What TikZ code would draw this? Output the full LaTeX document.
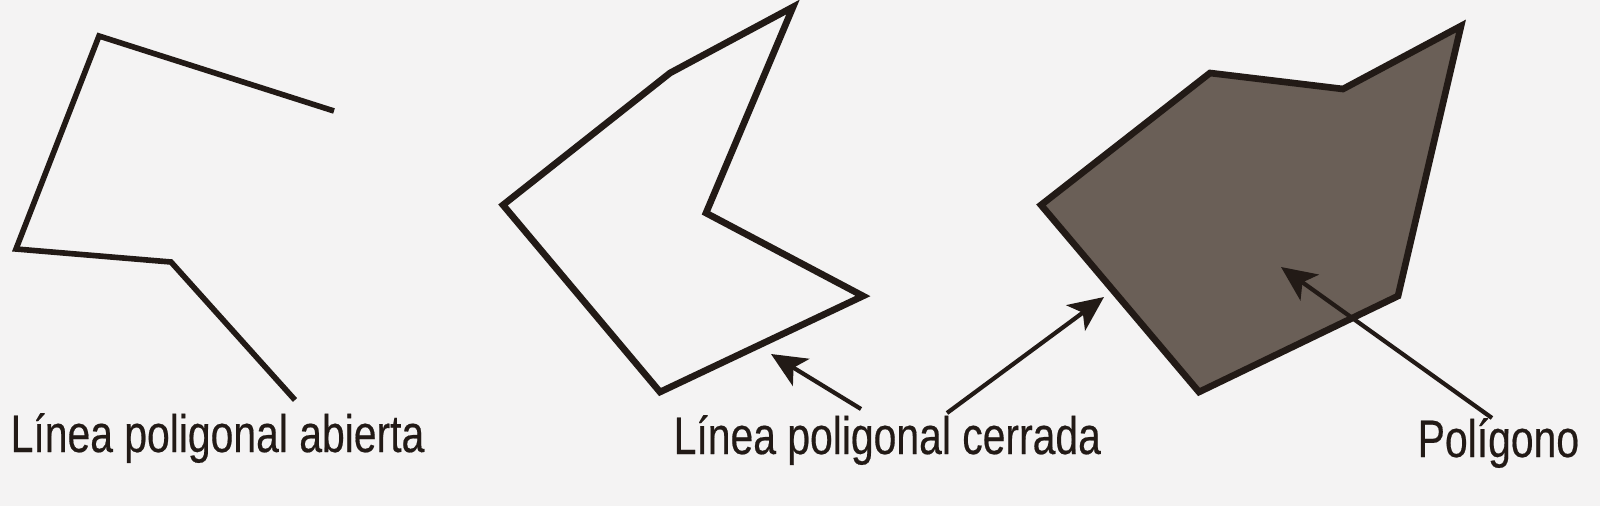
\documentclass[tikz,border=0pt]{standalone}
\usepackage{fontspec}
\setmainfont[FakeStretch=0.775,FakeBold=0.35]{Liberation Sans}
\usetikzlibrary{arrows.meta}
\definecolor{ink}{HTML}{221A16}
\definecolor{fondo}{HTML}{F4F3F3}
\definecolor{relleno}{HTML}{6A5F57}
\tikzset{
  contorno/.style={draw=ink, line width=1.9pt},
  flecha/.style={draw=ink, line width=1.2pt, -{Stealth[length=10pt,width=9pt,inset=2.5pt]}},
  rotulo/.style={anchor=base west, inner sep=0pt, text=ink, font=\fontsize{15}{18}\selectfont}
}
\begin{document}
\begin{tikzpicture}[x=0.01cm,y=-0.01cm]
                \fill[fondo] (0,0) rectangle (1600,506);
                \useasboundingbox (0,0) rectangle (1600,506);

                % abierta
                \coordinate (a1) at (334,111); \coordinate (a2) at (99,36); \coordinate (a3) at (16,249);
                \coordinate (a4) at (171,262); \coordinate (a5) at (295,400);
                \draw[contorno, line width=1.6pt] (a1) -- (a2) -- (a3) -- (a4) -- (a5);

                % cerrada
                \coordinate (c1) at (793,7); \coordinate (c2) at (670,73); \coordinate (c3) at (503,205);
                \coordinate (c4) at (660,392); \coordinate (c5) at (863,296); \coordinate (c6) at (706,213);
                \draw[contorno] (c1) -- (c2) -- (c3) -- (c4) -- (c5) -- (c6) -- cycle;

                % poligono
                \coordinate (p1) at (1461,26); \coordinate (p2) at (1343,89); \coordinate (p3) at (1210,73);
                \coordinate (p4) at (1041,205); \coordinate (p5) at (1199,392); \coordinate (p6) at (1398,296);
                \draw[contorno, fill=relleno] (p1) -- (p2) -- (p3) -- (p4) -- (p5) -- (p6) -- cycle;

                \node[rotulo] (abierta) at (10,452) {Línea poligonal abierta};
                \node[rotulo] (cerrada) at (673,454) {Línea poligonal cerrada};
                \node[rotulo] (poligono) at (1417,457) {Polígono};

                \coordinate (t1) at (861,409); \coordinate (h1) at (771,354);
                \coordinate (t2) at (947,413); \coordinate (h2) at (1104,297);
                \coordinate (t3) at (1492,418); \coordinate (h3) at (1281,267);
                \draw[flecha] (t1) to (h1); \draw[flecha] (t2) to (h2); \draw[flecha] (t3) to (h3);
            \end{tikzpicture}
\end{document}
